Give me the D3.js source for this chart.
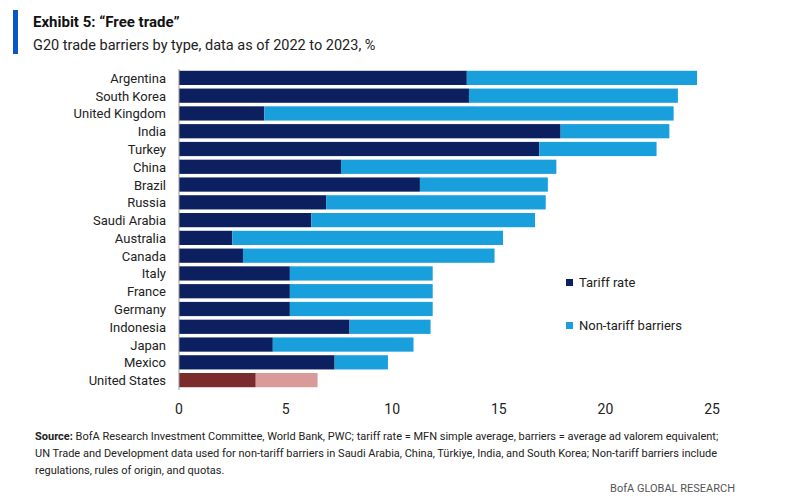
<!DOCTYPE html>
<html><head><meta charset="utf-8">
<script src="https://cdn.jsdelivr.net/npm/d3@7"></script>
<style>body{margin:0;background:#fff;font-family:Roboto,"Noto Sans",sans-serif}</style>
</head><body>
<svg id="chart" width="789" height="496"></svg>
<script>
// data
const countries = ["Argentina","South Korea","United Kingdom","India","Turkey","China","Brazil","Russia","Saudi Arabia","Australia","Canada","Italy","France","Germany","Indonesia","Japan","Mexico","United States"];
const tariff = [13.5,13.6,4.0,17.9,16.9,7.6,11.3,6.9,6.2,2.5,3.0,5.2,5.2,5.2,8.0,4.4,7.3,3.6];
const total = [24.3,23.4,23.2,23.0,22.4,17.7,17.3,17.2,16.7,15.2,14.8,11.9,11.9,11.9,11.8,11.0,9.8,6.5];
const xTicks = [0,5,10,15,20,25];

const svg = d3.select("#chart");
const x = d3.scaleLinear().domain([0,25]).range([179,712]);
const y = d3.scaleBand().domain(countries).range([69,389]).paddingInner(0.2).paddingOuter(0.1);

// header
svg.append("rect").attr("x",13).attr("y",10).attr("width",5).attr("height",44).attr("fill","#0a56c8");
svg.append("text").attr("x",33).attr("y",27).attr("font-size",15).attr("font-weight","bold").attr("fill","#111").text("Exhibit 5: \u201cFree trade\u201d");
svg.append("text").attr("x",33).attr("y",50).attr("font-size",14.5).attr("fill","#222").text("G20 trade barriers by type, data as of 2022 to 2023, %");

const rows = svg.append("g").selectAll("g").data(countries).join("g");
rows.append("rect").attr("x",x(0)).attr("y",d=>y(d))
  .attr("width",(d,i)=>x(tariff[i])-x(0)).attr("height",y.bandwidth())
  .attr("fill",d=>d==="United States"?"#7b2b2b":"#0c1f5e");
rows.append("rect").attr("x",(d,i)=>x(tariff[i])).attr("y",d=>y(d))
  .attr("width",(d,i)=>x(total[i])-x(tariff[i])).attr("height",y.bandwidth())
  .attr("fill",d=>d==="United States"?"#d99a9a":"#199fdb");
rows.append("text").attr("x",166).attr("y",d=>y(d)+y.bandwidth()/2+5)
  .attr("text-anchor","end").attr("font-size",13).attr("fill","#222").text(d=>d);

svg.append("line").attr("x1",x(0)).attr("x2",x(0)).attr("y1",69).attr("y2",390).attr("stroke","#999");

svg.append("g").selectAll("text").data(xTicks).join("text")
  .attr("x",d=>x(d)).attr("y",414).attr("text-anchor","middle").attr("font-size",14).attr("fill","#222").text(d=>d);

// legend
const legend = [["Tariff rate","#0c1f5e",283],["Non-tariff barriers","#199fdb",326]];
legend.forEach(([t,c,yy])=>{
  svg.append("rect").attr("x",566).attr("y",yy-4).attr("width",7).attr("height",7).attr("fill",c);
  svg.append("text").attr("x",579).attr("y",yy+4).attr("font-size",13).attr("fill","#222").text(t);
});

// footer
const src = svg.append("text").attr("x",35).attr("y",440).attr("font-size",11).attr("fill","#222");
src.append("tspan").attr("font-weight","bold").text("Source: ");
src.append("tspan").text("BofA Research Investment Committee, World Bank, PWC; tariff rate = MFN simple average, barriers = average ad valorem equivalent;");
svg.append("text").attr("x",35).attr("y",457).attr("font-size",11).attr("fill","#222").text("UN Trade and Development data used for non-tariff barriers in Saudi Arabia, China, T\u00fcrkiye, India, and South Korea; Non-tariff barriers include");
svg.append("text").attr("x",35).attr("y",474).attr("font-size",11).attr("fill","#222").text("regulations, rules of origin, and quotas.");
svg.append("text").attr("x",735).attr("y",492).attr("text-anchor","end").attr("font-size",11).attr("fill","#555").text("BofA GLOBAL RESEARCH");
</script>
</body></html>
